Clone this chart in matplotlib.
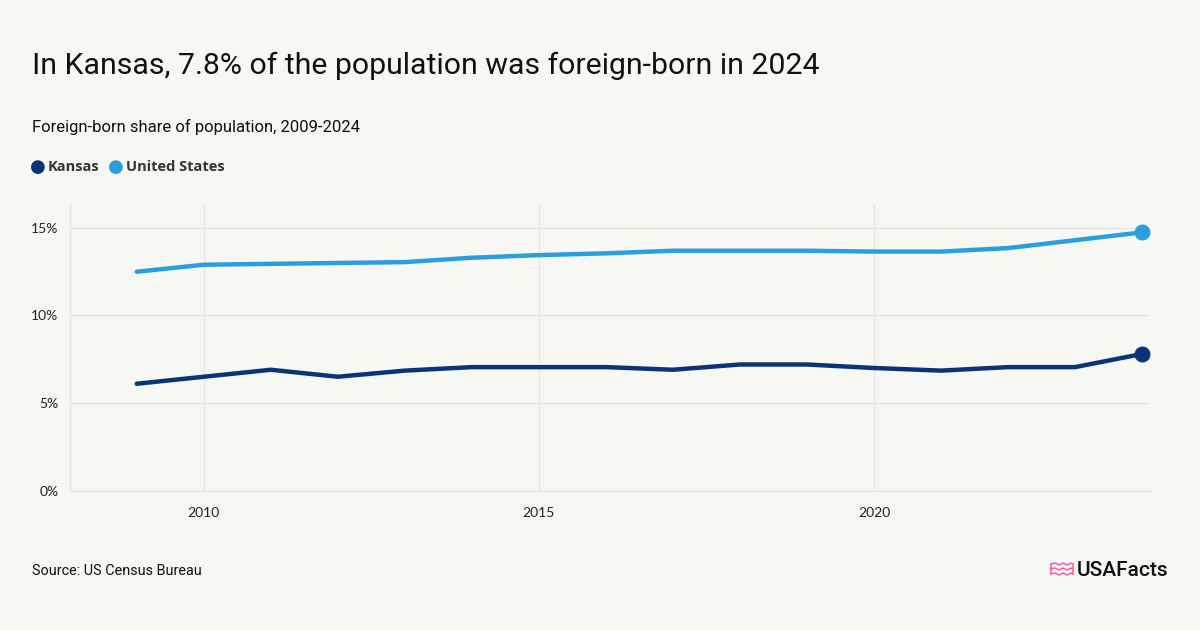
import matplotlib
matplotlib.use("Agg")
import matplotlib.pyplot as plt
from matplotlib.ticker import FuncFormatter

years = list(range(2009, 2025))
kansas = [6.1, 6.5, 6.9, 6.5, 6.85, 7.05, 7.05, 7.05, 6.9, 7.2, 7.2, 7.0, 6.85, 7.05, 7.05, 7.8]
us = [12.5, 12.9, 12.95, 13.0, 13.05, 13.3, 13.45, 13.55, 13.7, 13.7, 13.7, 13.65, 13.65, 13.85, 14.3, 14.75]
series_names = ["Kansas", "United States"]
yticks = [0, 5, 10, 15]
xticks = [2010, 2015, 2020]

BG = "#f7f7f3"
C_KS = "#0b3478"
C_US = "#2a9fdf"
GRID = "#e6e6e4"

fig = plt.figure(figsize=(12, 6.3), dpi=100, facecolor=BG)
ax = fig.add_axes([0.0581, 0.2214, 0.9003, 0.4548], facecolor=BG)

for vals, col in [(us, C_US), (kansas, C_KS)]:
    ax.plot(years, vals, color=col, lw=3.2, solid_capstyle="round", solid_joinstyle="round", zorder=3)
    ax.plot(years[-1:], vals[-1:], "o", color=col, ms=10.5, zorder=4)

ax.set_xlim(2008, 2024.12)
ax.set_ylim(0, 16.37)
ax.set_xticks(xticks)
ax.set_yticks(yticks)
ax.yaxis.set_major_formatter(FuncFormatter(lambda v, p: f"{int(v)}%"))
ax.grid(True, color=GRID, lw=1)
ax.set_axisbelow(True)
for s in ["top", "right"]:
    ax.spines[s].set_visible(False)
for s in ["left", "bottom"]:
    ax.spines[s].set_color(GRID)
    ax.spines[s].set_linewidth(1)
ax.tick_params(length=0, labelsize=10, colors="#222222", pad=8)
for lab in ax.get_xticklabels() + ax.get_yticklabels():
    lab.set_fontfamily("Lato")
ax.tick_params(axis="y", pad=8)
ax.tick_params(axis="x", pad=12)

fig.text(32/1200, 1 - 66/630, "In Kansas, 7.8% of the population was foreign-born in 2024",
         fontsize=21.8, family="Roboto", color="#111111", va="center", ha="left")
fig.text(32/1200, 1 - 127/630, "Foreign-born share of population, 2009-2024",
         fontsize=12, family="Roboto", color="#111111", va="center", ha="left")

# legend
leg_x = [38, 116]
for name, col, lx in zip(series_names, [C_KS, C_US], leg_x):
    fig.text(lx/1200, 1 - 167/630, "\u25CF", fontsize=13, color=col, va="center", ha="center", family="DejaVu Sans")
    fig.text((lx + 10)/1200, 1 - 167/630, name, fontsize=10.5, weight="bold", family="Open Sans",
             color="#333333", va="center", ha="left")

fig.text(32/1200, 1 - 571/630, "Source: US Census Bureau", fontsize=10.4, family="Roboto",
         color="#111111", va="center", ha="left")

# logo
fig.text(1168/1200, 1 - 571/630, "USAFacts", fontsize=15, family="Roboto", weight="medium",
         color="#111111", va="center", ha="right")
lax = fig.add_axes([1050/1200, 1 - 581/630, 24/1200, 20/630])
lax.set_xlim(0, 24); lax.set_ylim(0, 20); lax.axis("off")
wave_x = [1, 5, 9, 13, 17, 21, 23]
for off in [15, 10, 5]:
    lax.plot(wave_x, [off + 2, off + 3, off + 1, off + 3, off + 1, off + 3, off + 2], color="#f06aa8", lw=1.2)
lax.plot([1, 1], [7, 17], color="#f06aa8", lw=1.2)
lax.plot([23, 23], [7, 17], color="#f06aa8", lw=1.2)

fig.savefig("out.png", dpi=100, facecolor=BG)
